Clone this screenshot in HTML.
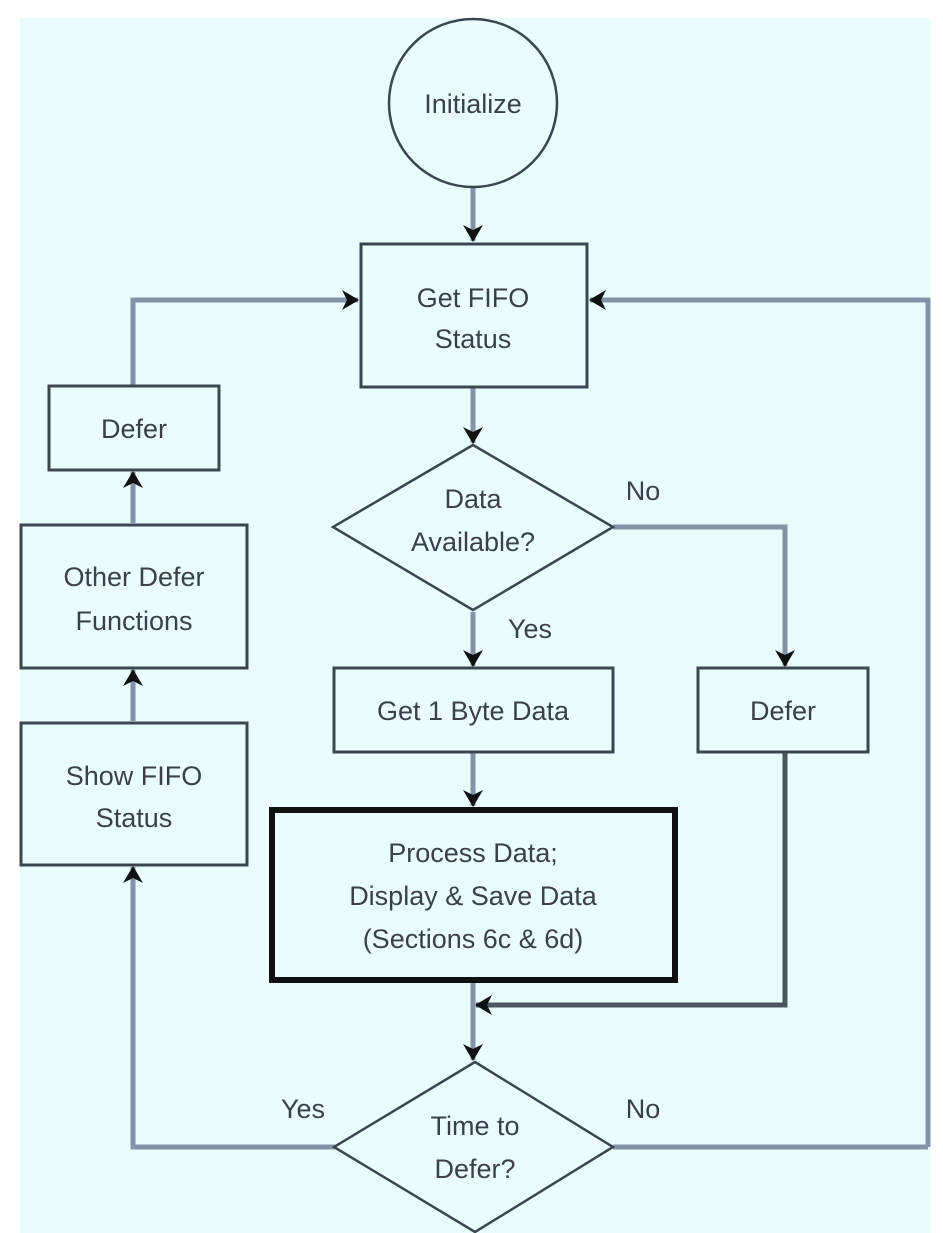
<!DOCTYPE html>
<html><head><meta charset="utf-8"><style>
body{margin:0;background:#fff;}
svg{display:block;}
text{font-family:"Liberation Sans",sans-serif;font-size:27px;fill:#3a3f48;text-anchor:middle;}
</style></head><body>
<svg width="943" height="1233" viewBox="0 0 943 1233">
<defs><marker id="a" markerWidth="10" markerHeight="10" refX="9" refY="5" orient="auto" markerUnits="userSpaceOnUse"><path d="M0,0 L10,5 L0,10 Z" fill="#111"/></marker>
<marker id="b" markerWidth="18" markerHeight="20" refX="16" refY="10" orient="auto" markerUnits="userSpaceOnUse"><path d="M0,0 L17,10 L0,20 L5,10 Z" fill="#111"/></marker></defs>
<rect x="20" y="18" width="910" height="1215" fill="#e9fdfd"/>
<g stroke="#8593a8" stroke-width="5" fill="none">
<line x1="473" y1="188" x2="473" y2="241" marker-end="url(#b)"/>
<polyline points="133,385 133,300 358,300" marker-end="url(#b)"/>
<polyline points="928,1147 928,300 590,300" marker-end="url(#b)"/>
<line x1="473" y1="388" x2="473" y2="443" marker-end="url(#b)"/>
<line x1="473" y1="612" x2="473" y2="666" marker-end="url(#b)"/>
<line x1="473" y1="753" x2="473" y2="806" marker-end="url(#b)"/>
<line x1="473" y1="982" x2="473" y2="1060" marker-end="url(#b)"/>
<polyline points="613,527 785,527 785,666" marker-end="url(#b)"/>
<polyline points="785,753 785,1005 476,1005" stroke="#4a5560" marker-end="url(#b)"/>
<line x1="133" y1="523" x2="133" y2="472" marker-end="url(#b)"/>
<line x1="133" y1="721" x2="133" y2="670" marker-end="url(#b)"/>
<polyline points="335,1147 133,1147 133,867" marker-end="url(#b)"/>
<line x1="613" y1="1147" x2="928" y2="1147"/>
</g>
<g fill="#eafdfd" stroke="#3c4650" stroke-width="3">
<circle cx="473" cy="103" r="84" stroke-width="2.5"/>
<rect x="361" y="244" width="226" height="143"/>
<rect x="49" y="386" width="170" height="84"/>
<rect x="21" y="525" width="226" height="143"/>
<rect x="21" y="723" width="226" height="142"/>
<polygon points="473,445 613,527 473,610 333,527" stroke-width="2.5"/>
<rect x="334" y="668" width="279" height="84"/>
<rect x="698" y="668" width="170" height="84"/>
<rect x="272" y="810" width="403" height="170" stroke="#111" stroke-width="6"/>
<polygon points="475,1062 613,1147 475,1232 334,1147" stroke-width="2.5"/>
</g>
<text x="473" y="113">Initialize</text>
<text x="473" y="307">Get FIFO</text><text x="473" y="348">Status</text>
<text x="134" y="438">Defer</text>
<text x="134" y="586">Other Defer</text><text x="134" y="630">Functions</text>
<text x="134" y="785">Show FIFO</text><text x="134" y="827">Status</text>
<text x="473" y="508">Data</text><text x="473" y="551">Available?</text>
<text x="643" y="500">No</text><text x="530" y="638">Yes</text>
<text x="473" y="720">Get 1 Byte Data</text>
<text x="783" y="720">Defer</text>
<text x="473" y="862">Process Data;</text><text x="473" y="905">Display &amp; Save Data</text><text x="473" y="948">(Sections 6c &amp; 6d)</text>
<text x="303" y="1118">Yes</text><text x="643" y="1118">No</text>
<text x="475" y="1135">Time to</text><text x="475" y="1178">Defer?</text>
</svg>
</body></html>
